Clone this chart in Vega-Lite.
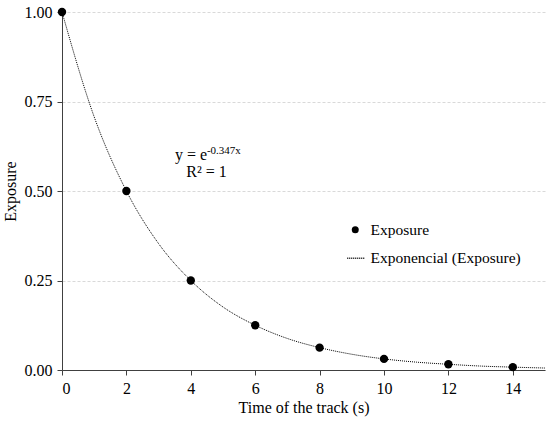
{
  "$schema": "https://vega.github.io/schema/vega-lite/v6.json",
  "width": 483,
  "height": 358,
  "autosize": "none",
  "padding": {"left": 62, "top": 12, "right": 5, "bottom": 52},
  "background": "white",
  "config": {
    "font": "Liberation Serif",
    "view": {"stroke": null},
    "axis": {
      "labelFont": "Liberation Serif",
      "titleFont": "Liberation Serif",
      "labelFontSize": 16,
      "titleFontSize": 16,
      "titleFontWeight": "normal",
      "labelColor": "black",
      "titleColor": "black",
      "domainColor": "#404040",
      "tickColor": "#404040",
      "tickSize": 5
    },
    "legend": {
      "labelFont": "Liberation Serif",
      "labelFontSize": 15.5,
      "labelColor": "black"
    }
  },
  "datasets": {
    "obs": [
      {"time": 0, "exposure": 1.0, "series": "Exposure"},
      {"time": 2, "exposure": 0.5, "series": "Exposure"},
      {"time": 4, "exposure": 0.25, "series": "Exposure"},
      {"time": 6, "exposure": 0.125, "series": "Exposure"},
      {"time": 8, "exposure": 0.0625, "series": "Exposure"},
      {"time": 10, "exposure": 0.031, "series": "Exposure"},
      {"time": 12, "exposure": 0.016, "series": "Exposure"},
      {"time": 14, "exposure": 0.008, "series": "Exposure"}
    ],
    "trend": [
      {"time": 0, "exposure": 1.0},
      {"time": 1, "exposure": 0.707},
      {"time": 2, "exposure": 0.5},
      {"time": 3, "exposure": 0.353},
      {"time": 4, "exposure": 0.25},
      {"time": 5, "exposure": 0.176},
      {"time": 6, "exposure": 0.125},
      {"time": 7, "exposure": 0.088},
      {"time": 8, "exposure": 0.0625},
      {"time": 9, "exposure": 0.044},
      {"time": 10, "exposure": 0.031},
      {"time": 11, "exposure": 0.022},
      {"time": 12, "exposure": 0.016},
      {"time": 13, "exposure": 0.011},
      {"time": 14, "exposure": 0.008},
      {"time": 15, "exposure": 0.0055}
    ]
  },
  "layer": [
    {
      "data": {"name": "trend"},
      "mark": {"type": "line", "color": "black", "strokeWidth": 1, "strokeDash": [1, 1], "interpolate": "monotone"},
      "encoding": {
        "x": {
          "field": "time", "type": "quantitative",
          "scale": {"domain": [0, 15], "nice": false},
          "axis": {"values": [0, 2, 4, 6, 8, 10, 12, 14], "grid": false, "title": "Time of the track (s)", "labelPadding": 5, "titlePadding": 3}
        },
        "y": {
          "field": "exposure", "type": "quantitative",
          "scale": {"domain": [0, 1], "nice": false},
          "axis": {
            "values": [0, 0.25, 0.5, 0.75, 1], "format": ".2f",
            "title": "Exposure", "titlePadding": 6, "labelPadding": 5,
            "gridColor": "#d9d9d9", "gridDash": [3, 2]
          }
        }
      }
    },
    {
      "data": {"name": "obs"},
      "mark": {"type": "point", "filled": true, "opacity": 1, "size": 70, "color": "black"},
      "encoding": {
        "x": {"field": "time", "type": "quantitative"},
        "y": {"field": "exposure", "type": "quantitative"},
        "shape": {
          "field": "series", "type": "nominal",
          "scale": {
            "domain": ["Exposure", "Exponencial (Exposure)"],
            "range": ["circle", "M-2.286,-0.2h0.286v0.4h-0.286zM-1.714,-0.2h0.286v0.4h-0.286zM-1.143,-0.2h0.286v0.4h-0.286zM-0.571,-0.2h0.286v0.4h-0.286zM0,-0.2h0.286v0.4h-0.286zM0.571,-0.2h0.286v0.4h-0.286zM1.143,-0.2h0.286v0.4h-0.286zM1.714,-0.2h0.286v0.4h-0.286zM2.286,-0.2h0.286v0.4h-0.286z"]
          },
          "legend": {
            "title": null,
            "orient": "none",
            "legendX": 285.5,
            "legendY": 210,
            "symbolSize": 49,
            "symbolFillColor": "black",
            "symbolStrokeWidth": 0,
            "labelOffset": 7.5,
            "rowPadding": 11.5
          }
        }
      }
    },
    {
      "data": {"values": [{"time": 3.51, "exposure": 0.6, "label": "y = e"}]},
      "mark": {"type": "text", "align": "left", "baseline": "middle", "fontSize": 16, "color": "black"},
      "encoding": {
        "x": {"field": "time", "type": "quantitative"},
        "y": {"field": "exposure", "type": "quantitative"},
        "text": {"field": "label"}
      }
    },
    {
      "data": {"values": [{"time": 4.5, "exposure": 0.612, "label": "-0.347x"}]},
      "mark": {"type": "text", "align": "left", "baseline": "middle", "fontSize": 11, "color": "black"},
      "encoding": {
        "x": {"field": "time", "type": "quantitative"},
        "y": {"field": "exposure", "type": "quantitative"},
        "text": {"field": "label"}
      }
    },
    {
      "data": {"values": [{"time": 4.49, "exposure": 0.553, "label": "R² = 1"}]},
      "mark": {"type": "text", "align": "center", "baseline": "middle", "fontSize": 16, "color": "black"},
      "encoding": {
        "x": {"field": "time", "type": "quantitative"},
        "y": {"field": "exposure", "type": "quantitative"},
        "text": {"field": "label"}
      }
    }
  ]
}
